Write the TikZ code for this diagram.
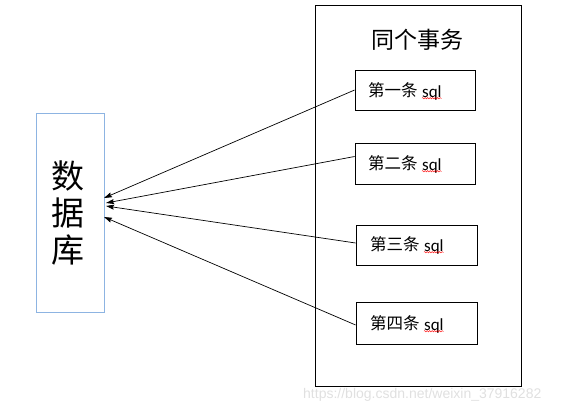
\documentclass[tikz,border=0pt]{standalone}
\usepackage{fontspec}
\setmainfont{Carlito}
\newfontfamily\cjk{Noto Sans CJK SC}
\usetikzlibrary{decorations.pathmorphing,arrows.meta}
\definecolor{dbblue}{HTML}{8DB4E2}
\begin{document}
\begin{tikzpicture}[x=1pt,y=-1pt,
  sqlbox/.style={draw=black,line width=0.8pt},
  conn/.style={-{Stealth[length=8pt,width=5pt,inset=1pt]},line width=0.7pt},
  cjktext/.style={anchor=west,inner sep=0pt,font=\cjk\fontsize{16.5}{18}\selectfont},
  sqltext/.style={anchor=base west,inner sep=0pt,font=\fontsize{17}{18}\selectfont},
  wavy/.style={red,line width=0.4pt,decorate,decoration={snake,amplitude=0.7pt,segment length=2.5pt}}]
\useasboundingbox (0,0) rectangle (584,413);
% database
\node[draw=dbblue,line width=0.8pt,minimum width=68pt,minimum height=199pt,inner sep=0pt] (db) at (70,212.5) {};
\node[font=\cjk\fontsize{33}{37}\selectfont,align=center,inner sep=0pt] (dbt) at (68,213) {数\\据\\库};
% outer box
\node[draw=black,line width=0.8pt,minimum width=206pt,minimum height=381pt,inner sep=0pt] (tx) at (418,195.5) {};
\node[font=\cjk\fontsize{23}{26}\selectfont,inner sep=0pt] (title) at (417,40) {同个事务};
% sql boxes
\node[sqlbox,minimum width=120pt,minimum height=40pt,inner sep=0pt] (s1) at (415,90) {};
\node[sqlbox,minimum width=120pt,minimum height=41pt,inner sep=0pt] (s2) at (415,163.5) {};
\node[sqlbox,minimum width=121pt,minimum height=40pt,inner sep=0pt] (s3) at (416.5,245) {};
\node[sqlbox,minimum width=121pt,minimum height=42pt,inner sep=0pt] (s4) at (416.5,323) {};
\node[cjktext] (c1) at (368,90) {第一条};
\node[cjktext] (c2) at (368,163) {第二条};
\node[cjktext] (c3) at (370,244) {第三条};
\node[cjktext] (c4) at (370,323) {第四条};
\node[sqltext] (t1) at ([xshift=4pt,yshift=-1pt]c1.base east) {sql};
\node[sqltext] (t2) at ([xshift=4pt,yshift=-1pt]c2.base east) {sql};
\node[sqltext] (t3) at ([xshift=4pt,yshift=-1pt]c3.base east) {sql};
\node[sqltext] (t4) at ([xshift=4pt,yshift=-1pt]c4.base east) {sql};
% wavy underlines
\foreach \n in {t1,t2,t3,t4}{
  \draw[wavy] ([yshift=2pt]\n.south west) -- ([yshift=2pt]\n.south east);
}
% connectors
\coordinate (e1) at (104,198);
\coordinate (e2) at (106,203);
\coordinate (e3) at (106,206);
\coordinate (e4) at (104,217);
\draw[conn] (s1.west) -- (e1);
\draw[conn] ([yshift=7pt]s2.west) -- (e2);
\draw[conn] ([yshift=2pt]s3.west) -- (e3);
\draw[conn] ([yshift=-2pt]s4.west) -- (e4);
% watermark
\node[font=\fontspec{Liberation Sans}\fontsize{14}{16}\selectfont,text=black!12,anchor=west,inner sep=0pt] (wm) at (303,395) {https://blog.csdn.net/weixin\_37916282};
\end{tikzpicture}
\end{document}
